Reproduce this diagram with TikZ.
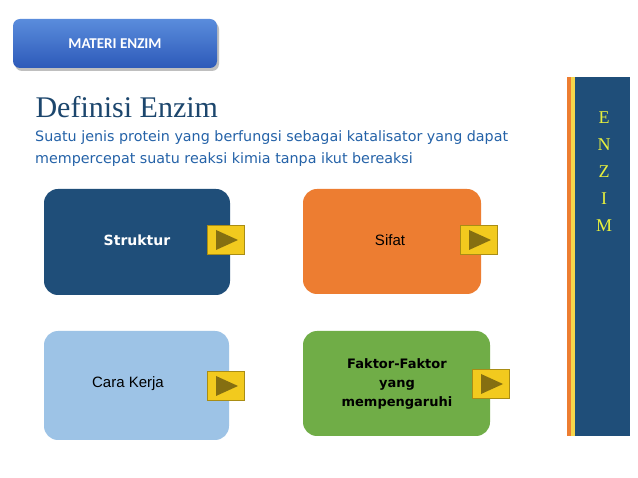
\documentclass[tikz,border=0pt]{standalone}
\usetikzlibrary{calc}
\usepackage{fontspec}
\setmainfont{Liberation Serif}
\newfontfamily\dvs{DejaVu Sans}
\newfontfamily\lsans{Liberation Sans}
\newfontfamily\carl{Carlito}
\definecolor{dblue}{HTML}{1F4E79}
\definecolor{orng}{HTML}{ED7D31}
\definecolor{lblue}{HTML}{9DC3E6}
\definecolor{grn}{HTML}{70AD47}
\definecolor{txtblue}{HTML}{2462A8}
\definecolor{ylw}{HTML}{F2CA1E}
\definecolor{barblue}{HTML}{1F4E79}
\definecolor{enz}{HTML}{E8F03C}
\definecolor{btop}{RGB}{90,140,220}
\definecolor{bbot}{RGB}{45,90,185}
\begin{document}
\begin{tikzpicture}[x=1pt,y=-1pt,
  card/.style={rounded corners=14pt,draw=none},
  play/.style={draw=ylw!70!black,line width=0.4pt,fill=ylw,minimum width=37pt,minimum height=29pt,inner sep=0pt}]
\useasboundingbox (0,0) rectangle (638,478);
\fill[white] (0,0) rectangle (638,478);
% header button
\fill[black!25,rounded corners=7pt] (15,22) rectangle (219,71);
\shade[top color=btop,bottom color=bbot,rounded corners=7pt] (13,19) rectangle (217,68);
\node[text=white,font=\carl\bfseries\fontsize{15}{18}\selectfont] (hdr) at (115,44) {MATERI ENZIM};
% title
\node[anchor=west,font=\fontsize{30}{34}\selectfont,text=dblue!90!black] (title) at (32,107) {Definisi Enzim};
\node[anchor=north west,align=left,text=txtblue,font=\dvs\fontsize{14.3}{22}\selectfont,inner sep=0pt] (def) at (35,130)
{Suatu jenis protein yang berfungsi sebagai katalisator yang dapat\\mempercepat suatu reaksi kimia tanpa ikut bereaksi};
% right bar
\fill[orng] (567,77) rectangle (571,436);
\fill[ylw!80!white] (571,77) rectangle (575,436);
\fill[barblue] (575,77) rectangle (630,436);
\node[text=enz,align=center,font=\fontsize{18}{27}\selectfont] (enzim) at (604,172) {E\\N\\Z\\I\\M};
% cards
\fill[card,fill=dblue] (44,189) rectangle (230,295);
\node[text=white,font=\dvs\bfseries\fontsize{14}{16}\selectfont] (struktur) at (137,240) {Struktur};
\fill[card,fill=orng] (303,189) rectangle (481,294);
\node[font=\lsans\fontsize{15}{17}\selectfont] (sifat) at (390,240) {Sifat};
\fill[card,fill=lblue] (44,331) rectangle (229,440);
\node[font=\lsans\fontsize{15}{17}\selectfont] (cara) at (128,384) {Cara Kerja};
\fill[card,fill=grn] (303,331) rectangle (490,436);
\node[font=\dvs\bfseries\fontsize{13}{19}\selectfont,align=center] (faktor) at (397,384) {Faktor-Faktor\\yang\\mempengaruhi};
% play buttons
\foreach \n/\x/\y in {p1/226/240, p2/479/240, p3/226/386, p4/491/384}{
  \node[play] (\n) at (\x,\y) {};
  \fill[ylw!55!black] ($(\n.center)+(-10,-10)$) -- ($(\n.center)+(12,0)$) -- ($(\n.center)+(-10,10)$) -- cycle;
}
\end{tikzpicture}
\end{document}
